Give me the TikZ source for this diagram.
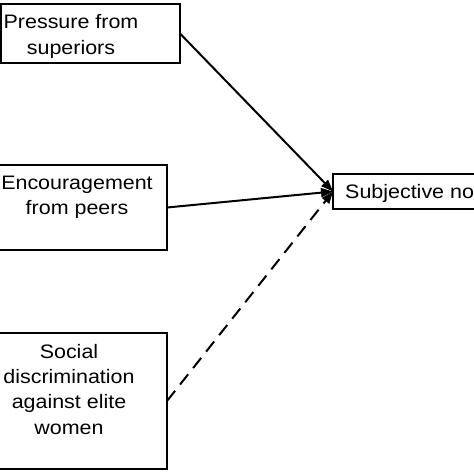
\documentclass[tikz,border=0pt]{standalone}
\usepackage{fontspec}
\setmainfont[FakeStretch=1.1]{Liberation Sans}
\usetikzlibrary{arrows.meta}
\begin{document}
\begin{tikzpicture}[x=1pt,y=1pt,
  box/.style={draw, line width=2pt, inner sep=0pt, outer sep=0pt},
  lbl/.style={align=center, font=\fontsize{19.5}{25.3}\selectfont, inner sep=0pt, anchor=north},
  link/.style={line width=2pt, -{Triangle[length=12pt,width=9pt]}},
  weak/.style={link, dash pattern=on 13pt off 8pt}]
\useasboundingbox (0,0) rectangle (474,-474);
\clip (0,0) rectangle (474,-474);
% boxes
\node[box, minimum width=179pt, minimum height=59pt] (b1) at (90.5,-33.5) {};
\node[box, minimum width=200pt, minimum height=85pt] (b2) at (67,-207.5) {};
\node[box, minimum width=200pt, minimum height=136pt] (b3) at (67,-401) {};
\node[box, minimum width=190pt, minimum height=35pt] (b4) at (428,-191.5) {};
% labels
\node[lbl] (t1) at (71,-14.5) {Pressure from\\superiors};
\node[lbl] (t2) at (77,-176) {Encouragement\\from peers};
\node[lbl] (t3) at (69,-344) {Social\\discrimination\\against elite\\women};
\node[lbl, anchor=base west] (t4) at (345,-198.5) {Subjective no};
% connectors
\draw[link] (b1.east) -- (b4.west);
\draw[link] (b2.east) -- (b4.west);
\draw[weak] (b3.east) -- (b4.west);
\end{tikzpicture}
\end{document}
